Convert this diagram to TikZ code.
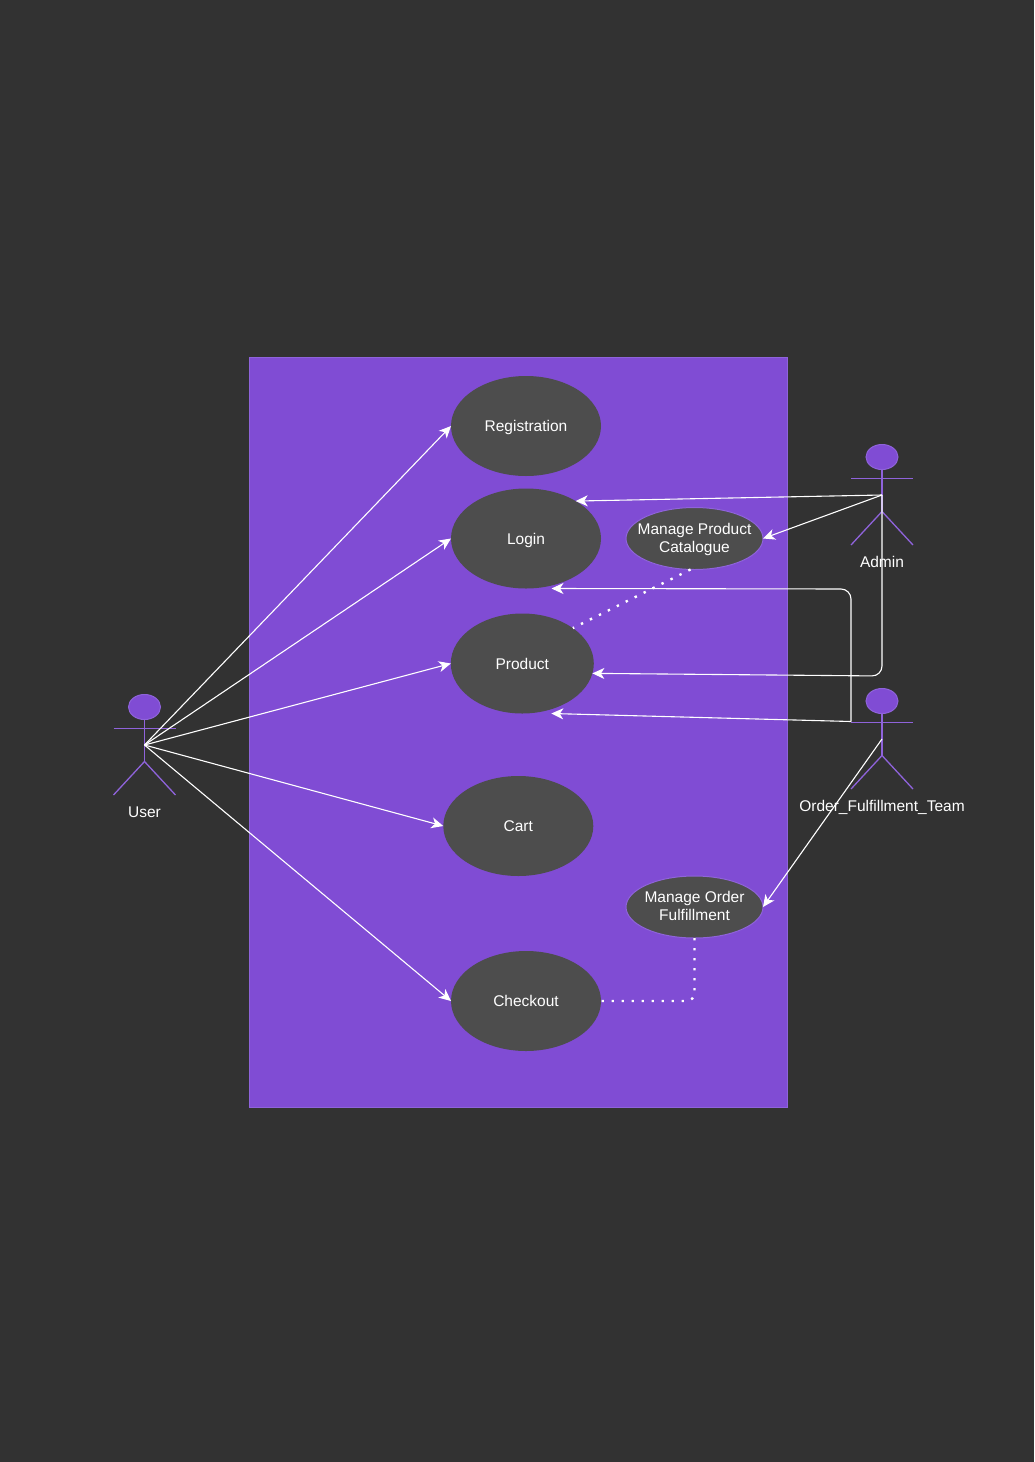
\documentclass[tikz,border=0pt]{standalone}
\usepackage{fontspec}
\setmainfont{Liberation Sans}
\usetikzlibrary{shapes.geometric,arrows.meta}
\definecolor{bgc}{HTML}{323232}
\definecolor{purp}{HTML}{804CD4}
\definecolor{purpline}{HTML}{8F63DB}
\definecolor{usefill}{HTML}{4D4D4D}
\newcommand{\tx}[2][-2.2pt]{\raisebox{#1}[\height][\depth]{\begin{tabular}{@{}c@{}}#2\end{tabular}}}
\tikzset{
  x=1pt,y=-1pt,
  lbl/.style={font=\fontsize{15.5}{18}\selectfont,text=white,align=center},
  usecase/.style={ellipse,fill=usefill,draw=none,inner sep=0pt,outer sep=0pt,minimum width=150pt,minimum height=100pt,lbl},
  minicase/.style={ellipse,fill=usefill,draw=purpline,line width=1pt,inner sep=0pt,inner xsep=-14pt,outer sep=0pt,minimum width=137pt,minimum height=62pt,lbl},
  head/.style={ellipse,fill=purp,draw=purpline,line width=1pt,inner sep=0pt,outer sep=0pt,minimum width=32pt,minimum height=25pt},
  limb/.style={draw=purpline,line width=1.3pt},
  flow/.style={draw=white,line width=1.1pt,-{Stealth[length=12pt,width=11pt,inset=3.5pt]}},
  dotline/.style={draw=white,line width=2.4pt,dash pattern=on 2.4pt off 7.6pt},
}
\newcommand{\stickman}[4]{% name, x, head y, label
  \node[head] (#1head) at (#2,#3) {};
  \coordinate (#1neck) at (#2,#3+12.5);
  \coordinate (#1hub) at (#2,#3+38);
  \coordinate (#1hip) at (#2,#3+54.5);
  \coordinate (#1armL) at (#2-31,#3+21.5);
  \coordinate (#1armR) at (#2+31,#3+21.5);
  \coordinate (#1legL) at (#2-31,#3+88);
  \coordinate (#1legR) at (#2+31,#3+88);
  \draw[limb] (#1neck) -- (#1hip);
  \draw[limb] (#1armL) -- (#1armR);
  \draw[limb] (#1legL) -- (#1hip) -- (#1legR);
  \node[lbl] (#1label) at (#2,#3+105) {\tx{#4}};
}
\begin{document}
\begin{tikzpicture}
\useasboundingbox[fill=bgc] (0,0) rectangle (1034,1462);
\node[rectangle,fill=purp,draw=purpline,line width=1pt,inner sep=0pt,minimum width=538pt,minimum height=750pt] (system) at (518,732) {};
\node[usecase] (reg) at (526,426) {\tx{Registration}};
\node[usecase] (login) at (526,538.5) {\tx{Login}};
\node[usecase,minimum width=143pt] (product) at (522.3,663.5) {\tx{Product}};
\node[usecase] (cart) at (518.3,826) {\tx{Cart}};
\node[usecase] (checkout) at (526,1001) {\tx{Checkout}};
\node[minicase] (mpc) at (694.5,538.5) {\tx[-1.3pt]{Manage Product\\Catalogue}};
\node[minicase] (mof) at (694.5,907) {\tx[-1.3pt]{Manage Order\\Fulfillment}};
\stickman{user}{144.5}{707}{User}
\stickman{admin}{882}{457}{Admin}
\stickman{team}{882}{701}{Order\_Fulfillment\_Team}
\coordinate (adminbend) at (882,676);
\coordinate (teamcorner) at (851,721.5);
\coordinate (teamup) at (851,589);
% user edges
\draw[flow] (userhub) -- (reg.west);
\draw[flow] (userhub) -- (login.west);
\draw[flow] (userhub) -- (product.west);
\draw[flow] (userhub) -- (cart.west);
\draw[flow] (userhub) -- (checkout.west);
% admin edges
\draw[flow] (adminhub) -- (login.37);
\draw[flow] (adminhub) -- (mpc.east);
\draw[flow,rounded corners=10pt] (adminhub) -- (adminbend) -- (product.-8);
% team edges
\draw[flow] (teamcorner) -- ([xshift=29pt]product.south);
\draw[flow,rounded corners=10pt] (teamcorner) -- (teamup) -- ([xshift=25.5pt]login.south);
\draw[flow] (teamhub) -- (mof.east);
% dotted links
\draw[dotline] ([xshift=-4pt]mpc.south) -- (product.35);
\coordinate (dotbend) at (694.5,1001);
\draw[dotline,rounded corners=8pt] (mof.south) -- (dotbend) -- (checkout.east);
\end{tikzpicture}
\end{document}
